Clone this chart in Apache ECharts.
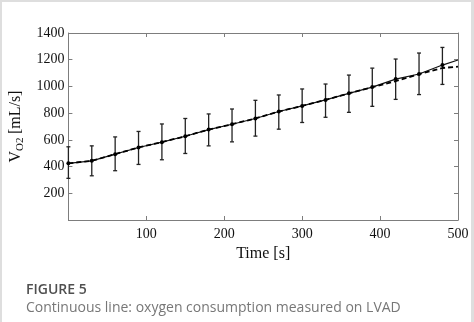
<!DOCTYPE html>
<html>
<head>
<meta charset="utf-8">
<style>
  html, body { margin: 0; padding: 0; background: #ffffff; }
  #chart { width: 474px; height: 322px; }
</style>
<script src="https://cdn.jsdelivr.net/npm/echarts@6/dist/echarts.min.js"></script>
</head>
<body>
<div id="chart"></div>
<script>
// Sample times [s] at which VO2 was measured
const times = [0, 30, 60, 90, 120, 150, 180, 210, 240, 270, 300, 330, 360, 390, 420, 450, 480];
// Measured oxygen consumption [mL/s] (mean)
const measured = [424, 443, 493, 543, 583, 627, 677, 717, 760, 812, 854, 899, 948, 995, 1055, 1093, 1160];
// Error bar bounds [mL/s]
const errLow  = [312, 331, 369, 416, 451, 498, 555, 585, 628, 680, 730, 769, 806, 851, 903, 939, 1015];
const errHigh = [548, 555, 622, 663, 719, 760, 794, 831, 896, 936, 981, 1018, 1085, 1137, 1205, 1250, 1292];
// Final point of the measured trace at t = 500 s
const measuredEnd = [500, 1198];
// Model (dashed) trace
const modelTimes = [0, 30, 60, 90, 120, 150, 180, 210, 240, 270, 300, 330, 360, 390, 420, 450, 480, 500];
const modelVals  = [424, 443, 493, 543, 583, 627, 677, 717, 760, 812, 854, 899, 948, 995, 1040, 1092, 1138, 1148];
// Axis ticks
const xTicks = [100, 200, 300, 400, 500];
const yTicks = [200, 400, 600, 800, 1000, 1200, 1400];

const serif = '"Liberation Serif", "Times New Roman", serif';
const axisGray = '#7d7d7d';

const measuredData = times.map((t, i) => [t, measured[i]]);
measuredData.push({ value: measuredEnd, symbol: 'none' });
const modelData = modelTimes.map((t, i) => [t, modelVals[i]]);
const errData = times.map((t, i) => [t, errLow[i], errHigh[i]]);

const chart = echarts.init(document.getElementById('chart'), null, { renderer: 'canvas' });

function boxAxis(extra) {
  return Object.assign({
    axisLine: { show: true, onZero: false, lineStyle: { color: axisGray, width: 1 } },
    axisTick: { show: true, inside: true, length: 4, lineStyle: { color: axisGray } },
    splitLine: { show: false }
  }, extra);
}

chart.setOption({
  animation: false,
  backgroundColor: '#ffffff',
  grid: { left: 64, right: 16, top: 33, bottom: 102, containLabel: false },
  xAxis: [
    boxAxis({
      type: 'value', min: 0, max: 500, interval: 100, position: 'bottom',
      name: 'Time [s]', nameLocation: 'middle', nameGap: 22,
      nameTextStyle: { fontFamily: serif, fontSize: 16, color: '#111' },
      axisLabel: {
        fontFamily: serif, fontSize: 14, color: '#111', margin: 7,
        formatter: v => (xTicks.indexOf(v) >= 0 ? String(v) : '')
      }
    }),
    boxAxis({
      type: 'value', min: 0, max: 500, interval: 100, position: 'top',
      axisLabel: { show: false }
    })
  ],
  yAxis: [
    boxAxis({
      type: 'value', min: 0, max: 1400, interval: 200, position: 'left',
      name: '{v|V}{s|O2} {v|[mL/s]}', nameLocation: 'middle', nameGap: 40,
      nameTextStyle: {
        rich: {
          v: { fontFamily: serif, fontSize: 16, color: '#111' },
          s: { fontFamily: serif, fontSize: 11, color: '#111', verticalAlign: 'bottom', padding: [8, 0, 0, 0] }
        }
      },
      axisLabel: {
        fontFamily: serif, fontSize: 14, color: '#111', margin: 4,
        formatter: v => (yTicks.indexOf(v) >= 0 ? String(v) : '')
      }
    }),
    boxAxis({
      type: 'value', min: 0, max: 1400, interval: 200, position: 'right',
      axisLabel: { show: false }
    })
  ],
  series: [
    {
      type: 'custom',
      name: 'error',
      xAxisIndex: 0, yAxisIndex: 0,
      data: errData,
      renderItem: function (params, api) {
        const x = api.value(0);
        const lo = api.coord([x, api.value(1)]);
        const hi = api.coord([x, api.value(2)]);
        const cap = 2;
        const style = { stroke: '#222', lineWidth: 1.3 };
        return {
          type: 'group',
          children: [
            { type: 'line', shape: { x1: lo[0], y1: lo[1], x2: hi[0], y2: hi[1] }, style: style },
            { type: 'line', shape: { x1: lo[0] - cap, y1: lo[1], x2: lo[0] + cap, y2: lo[1] }, style: style },
            { type: 'line', shape: { x1: hi[0] - cap, y1: hi[1], x2: hi[0] + cap, y2: hi[1] }, style: style }
          ]
        };
      },
      z: 2
    },
    {
      type: 'line',
      name: 'measured',
      data: measuredData,
      symbol: 'circle',
      symbolSize: 4,
      itemStyle: { color: '#000' },
      lineStyle: { color: '#111', width: 1.2, type: 'solid' },
      z: 3
    },
    {
      type: 'line',
      name: 'model',
      data: modelData,
      symbol: 'none',
      lineStyle: { color: '#000', width: 1.8, type: [5, 3] },
      z: 4
    }
  ],
  graphic: [
    // light frame around the figure panel
    { type: 'rect', left: 0, top: 0, shape: { width: 474, height: 2 }, style: { fill: '#dedede' }, silent: true },
    { type: 'rect', left: 0, top: 0, shape: { width: 2, height: 322 }, style: { fill: '#dedede' }, silent: true },
    { type: 'rect', left: 471, top: 0, shape: { width: 3, height: 322 }, style: { fill: '#dedede' }, silent: true },
    {
      type: 'text', left: 26, top: 283,
      style: { text: 'FIGURE 5', font: '600 14px "Open Sans", sans-serif', fill: '#4f4f4f' }
    },
    {
      type: 'text', left: 26, top: 301,
      style: { text: 'Continuous line: oxygen consumption measured on LVAD', font: '14px "Open Sans", sans-serif', fill: '#777' }
    }
  ]
});
</script>
</body>
</html>
